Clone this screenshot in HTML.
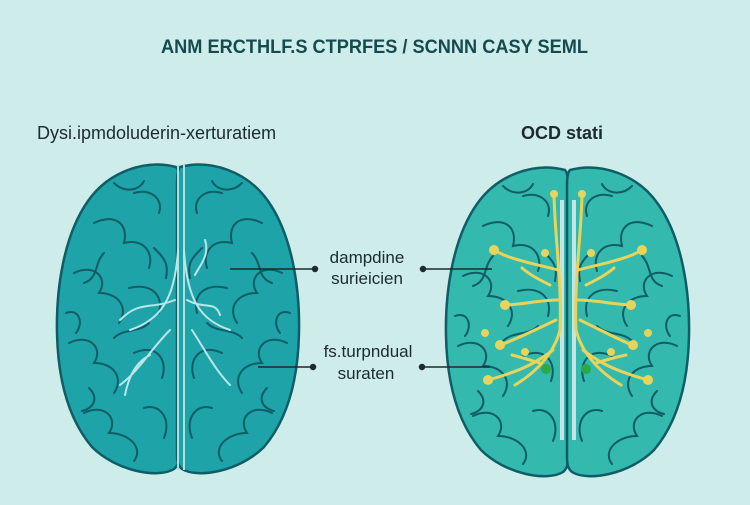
<!DOCTYPE html>
<html><head><meta charset="utf-8"><style>
html,body{margin:0;padding:0}
body{width:750px;height:500px;background:#cdecea;overflow:hidden;font-family:"Liberation Sans",sans-serif}
</style></head><body>
<svg width="750" height="500" viewBox="0 0 750 500" xmlns="http://www.w3.org/2000/svg">
<defs>
<path id="hemi" d="M122,4 C92,-4 55,8 34,38 C10,72 2,125 3,170 C4,220 16,258 38,284 C62,308 104,316 120,306 C125,302 125,296 125,290 L125,20 C125,10 124,6 122,4 Z"/>
<g id="gyri" fill="none" stroke-width="2" stroke-linecap="round">
<path d="M40,60 C60,50 75,60 70,80 C90,75 100,90 95,105"/>
<path d="M20,110 C40,100 55,115 45,130 C65,130 75,145 65,160"/>
<path d="M15,180 C35,170 50,185 40,200 C60,200 70,215 60,230"/>
<path d="M30,250 C50,240 65,255 55,270 C75,270 90,285 80,298"/>
<path d="M80,30 C95,25 110,35 105,50"/>
<path d="M75,125 C95,120 110,130 105,150"/>
<path d="M80,190 C100,180 115,195 108,215"/>
<path d="M90,245 C105,240 118,255 110,275"/>
<path d="M50,90 C40,100 45,115 30,120"/>
<path d="M95,160 C85,170 70,165 60,175"/>
<path d="M60,20 C70,30 85,28 90,18"/>
<path d="M12,150 C25,145 30,160 22,170"/>
<path d="M35,225 C45,235 40,245 28,248"/>
<path d="M100,85 C110,95 115,100 112,115"/>
</g>
</defs>

<text x="161" y="53" textLength="427" lengthAdjust="spacingAndGlyphs" font-size="19" font-weight="bold" fill="#154a4f">ANM ERCTHLF.S CTPRFES / SCNNN CASY SEML</text>
<text x="37" y="139" font-size="18" fill="#1d2b2c">Dysi.ipmdoluderin-xerturatiem</text>
<text x="521" y="139" font-size="18" font-weight="bold" fill="#1d2b2c">OCD stati</text>

<g stroke="#0f5d66" stroke-width="2.5" fill="#1ea3a8">
<use href="#hemi" transform="translate(54,163)"/>
<use href="#hemi" transform="translate(302,163) scale(-1,1)"/>
</g>
<g stroke="#0f5d66"><use href="#gyri" transform="translate(54,163)"/><use href="#gyri" transform="translate(302,163) scale(-1,1)"/></g>
<path d="M178,165 L178,470 M184,165 L184,470" stroke="#aee0e0" stroke-width="2" fill="none"/>
<g stroke="#b9e6ea" stroke-width="2" fill="none" stroke-linecap="round">
<path d="M178,250 C175,300 160,320 130,330 M175,300 C150,310 140,300 120,320 M170,330 C150,350 140,370 120,385 M150,355 C140,360 130,370 125,395"/>
<path d="M184,250 C187,300 200,320 230,330 M187,300 C205,310 215,300 220,315 M192,330 C205,350 215,370 230,385 M205,240 C210,255 200,265 195,275"/>
</g>

<g stroke="#0f5d66" stroke-width="2.5" fill="#33b9ae">
<use href="#hemi" transform="translate(443,166)"/>
<use href="#hemi" transform="translate(692,166) scale(-1,1)"/>
</g>
<g stroke="#0f5d66"><use href="#gyri" transform="translate(443,166)"/><use href="#gyri" transform="translate(692,166) scale(-1,1)"/></g>
<path d="M562,200 L562,440 M574,200 L574,440" stroke="#c7e4e4" stroke-width="4"/>
<g stroke="#e8d45a" stroke-width="3" fill="none" stroke-linecap="round">
<path d="M554,195 C555,240 562,280 560,330 C555,350 540,370 515,385"/>
<path d="M558,270 C540,265 510,260 494,250 M558,300 C540,300 520,305 505,305 M556,320 C535,330 515,340 500,345 M553,350 C540,360 525,370 488,380 M550,285 C540,280 530,275 522,268 M540,363 C530,360 520,357 512,355"/>
<path d="M582,195 C581,240 574,280 576,330 C581,350 596,370 621,385"/>
<path d="M578,270 C596,265 626,260 642,250 M578,300 C596,300 616,305 634,305 M580,320 C600,330 620,340 632,345 M583,350 C596,360 611,370 648,380 M586,285 C596,280 606,275 614,268 M596,363 C606,360 616,357 626,355"/>
</g>
<g fill="#e8d45a">
<circle cx="554" cy="194" r="4"/><circle cx="582" cy="194" r="4"/><circle cx="494" cy="250" r="5"/><circle cx="642" cy="250" r="5"/>
<circle cx="505" cy="305" r="5"/><circle cx="631" cy="305" r="5"/><circle cx="500" cy="345" r="5"/><circle cx="633" cy="345" r="5"/>
<circle cx="488" cy="380" r="5"/><circle cx="648" cy="380" r="5"/><circle cx="485" cy="333" r="4"/><circle cx="648" cy="333" r="4"/>
<circle cx="545" cy="253" r="4"/><circle cx="591" cy="253" r="4"/><circle cx="525" cy="352" r="4"/><circle cx="611" cy="352" r="4"/>
</g>
<circle cx="546" cy="369" r="5" fill="#2aa84a"/><circle cx="586" cy="369" r="5" fill="#2aa84a"/>

<g stroke="#1d2b2c" stroke-width="1.5" fill="#1d2b2c">
<line x1="230" y1="269" x2="315" y2="269"/><circle cx="315" cy="269" r="2.5"/>
<line x1="258" y1="367" x2="313" y2="367"/><circle cx="313" cy="367" r="2.5"/>
<line x1="423" y1="269" x2="492" y2="269"/><circle cx="423" cy="269" r="2.5"/>
<line x1="422" y1="367" x2="490" y2="367"/><circle cx="422" cy="367" r="2.5"/>
</g>
<g font-size="17" fill="#1d2b2c" text-anchor="middle">
<text x="367" y="263">dampdine</text>
<text x="367" y="284">surieicien</text>
<text x="368" y="357">fs.turpndual</text>
<text x="366" y="379">suraten</text>
</g>
</svg>
</body></html>
